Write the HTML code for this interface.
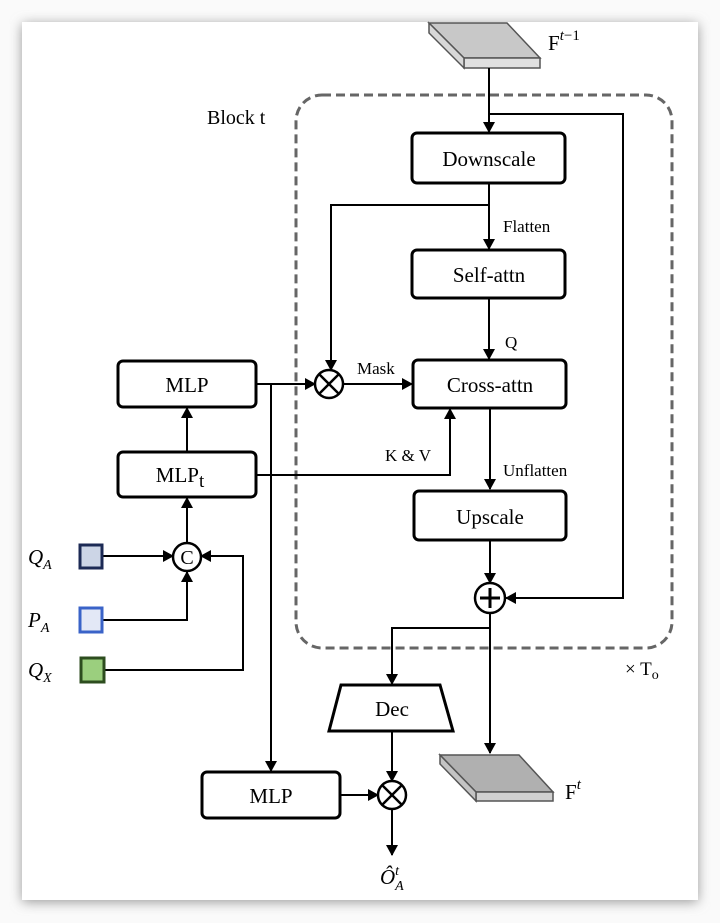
<!DOCTYPE html>
<html><head><meta charset="utf-8"><style>
html,body{margin:0;padding:0;background:#f2f2f2;}
svg{display:block;}
text{font-family:"Liberation Serif",serif;fill:#000;}
</style></head><body>
<svg width="720" height="923" viewBox="0 0 720 923" xmlns="http://www.w3.org/2000/svg">
<defs>
<filter id="sh" x="-10%" y="-10%" width="120%" height="120%"><feGaussianBlur stdDeviation="6"/></filter>
<marker id="ar" markerWidth="11" markerHeight="12" refX="10" refY="6" orient="auto" markerUnits="userSpaceOnUse"><path d="M0,0 L11,6 L0,12 z" fill="#000"/></marker>
</defs>
<rect x="0" y="0" width="720" height="923" fill="#fafafa"/>
<rect x="22" y="24" width="676" height="878" fill="#999" filter="url(#sh)"/>
<rect x="22" y="22" width="676" height="878" fill="#fff"/>

<rect x="296" y="95" width="376" height="553" rx="26" fill="none" stroke="#666" stroke-width="3" stroke-dasharray="9,5"/>
<text x="207" y="124" font-size="20">Block t</text>

<polygon points="429,23 507,23 540,58 464,58" fill="#c8c8c8" stroke="#555" stroke-width="1.5"/>
<polygon points="464,58 540,58 540,68 464,68" fill="#e0e0e0" stroke="#555" stroke-width="1.5"/>
<polygon points="429,23 464,58 464,68 429,33" fill="#d8d8d8" stroke="#555" stroke-width="1.5"/>
<text x="548" y="50" font-size="21">F<tspan font-size="15" dy="-10" font-style="italic">t</tspan><tspan font-size="15">−1</tspan></text>

<polygon points="440,755 519,755 553,792 476,792" fill="#b0b0b0" stroke="#555" stroke-width="1.5"/>
<polygon points="476,792 553,792 553,801 476,801" fill="#d0d0d0" stroke="#555" stroke-width="1.5"/>
<polygon points="440,755 476,792 476,801 440,764" fill="#c4c4c4" stroke="#555" stroke-width="1.5"/>
<text x="565" y="799" font-size="21">F<tspan font-size="15" dy="-10" font-style="italic">t</tspan></text>

<g fill="none" stroke="#000" stroke-width="2">
<line x1="489" y1="68" x2="489" y2="132" marker-end="url(#ar)"/>
<polyline points="489,114 623,114 623,598 506,598" marker-end="url(#ar)"/>
<line x1="489" y1="183" x2="489" y2="249" marker-end="url(#ar)"/>
<polyline points="489,205 331,205 331,370" marker-end="url(#ar)"/>
<line x1="489" y1="298" x2="489" y2="359" marker-end="url(#ar)"/>
<line x1="343" y1="384" x2="412" y2="384" marker-end="url(#ar)"/>
<line x1="256" y1="384" x2="315" y2="384" marker-end="url(#ar)"/>
<line x1="271" y1="384" x2="271" y2="771" marker-end="url(#ar)"/>
<polyline points="256,475 450,475 450,409" marker-end="url(#ar)"/>
<line x1="490" y1="408" x2="490" y2="489" marker-end="url(#ar)"/>
<line x1="490" y1="540" x2="490" y2="583" marker-end="url(#ar)"/>
<line x1="490" y1="613" x2="490" y2="753" marker-end="url(#ar)"/>
<polyline points="490,628 392,628 392,684" marker-end="url(#ar)"/>
<line x1="392" y1="731" x2="392" y2="781" marker-end="url(#ar)"/>
<line x1="340" y1="795" x2="378" y2="795" marker-end="url(#ar)"/>
<line x1="392" y1="809" x2="392" y2="855" marker-end="url(#ar)"/>
<line x1="102" y1="556" x2="173" y2="556" marker-end="url(#ar)"/>
<polyline points="102,620 187,620 187,572" marker-end="url(#ar)"/>
<polyline points="104,670 243,670 243,556 201,556" marker-end="url(#ar)"/>
<line x1="187" y1="543" x2="187" y2="498" marker-end="url(#ar)"/>
<line x1="187" y1="452" x2="187" y2="408" marker-end="url(#ar)"/>
</g>

<g fill="#fff" stroke="#000" stroke-width="3">
<rect x="412" y="133" width="153" height="50" rx="5"/>
<rect x="412" y="250" width="153" height="48" rx="5"/>
<rect x="413" y="360" width="153" height="48" rx="5"/>
<rect x="414" y="491" width="152" height="49" rx="5"/>
<rect x="118" y="361" width="138" height="46" rx="5"/>
<rect x="118" y="452" width="138" height="45" rx="5"/>
<rect x="202" y="772" width="138" height="46" rx="5"/>
<polygon points="341,685 440,685 453,731 329,731"/>
</g>
<g font-size="21" text-anchor="middle">
<text x="489" y="166">Downscale</text>
<text x="489" y="282">Self-attn</text>
<text x="490" y="392">Cross-attn</text>
<text x="490" y="524">Upscale</text>
<text x="187" y="392">MLP</text>
<text x="180" y="482">MLP<tspan font-size="19" dy="5">t</tspan></text>
<text x="271" y="803">MLP</text>
<text x="392" y="716">Dec</text>
</g>

<g fill="#fff" stroke="#000" stroke-width="2.5">
<circle cx="329" cy="384" r="14"/>
<circle cx="392" cy="795" r="14"/>
<circle cx="490" cy="598" r="15"/>
<circle cx="187" cy="557" r="14"/>
</g>
<g stroke="#000" stroke-width="2.5">
<line x1="319" y1="374" x2="339" y2="394"/><line x1="339" y1="374" x2="319" y2="394"/>
<line x1="382" y1="785" x2="402" y2="805"/><line x1="402" y1="785" x2="382" y2="805"/>
<line x1="480" y1="598" x2="500" y2="598" stroke-width="3"/><line x1="490" y1="588" x2="490" y2="608" stroke-width="3"/>
</g>
<text x="187" y="564" font-size="20" text-anchor="middle">C</text>

<rect x="80" y="545" width="22" height="23" fill="#ccd5e6" stroke="#1c2a55" stroke-width="3"/>
<rect x="80" y="608" width="22" height="24" fill="#e3e8f6" stroke="#3a63c8" stroke-width="3"/>
<rect x="81" y="658" width="23" height="24" fill="#9bcf7e" stroke="#2d4d1f" stroke-width="3"/>
<g font-size="21" font-style="italic">
<text x="28" y="564">Q<tspan font-size="14" dy="5">A</tspan></text>
<text x="28" y="627">P<tspan font-size="14" dy="5">A</tspan></text>
<text x="28" y="677">Q<tspan font-size="14" dy="5">X</tspan></text>
<text x="380" y="884">Ô<tspan font-size="14" dy="-9">t</tspan><tspan font-size="14" dx="-4" dy="15">A</tspan></text>
</g>

<g font-size="17">
<text x="503" y="232">Flatten</text>
<text x="505" y="348">Q</text>
<text x="357" y="374">Mask</text>
<text x="385" y="461">K &amp; V</text>
<text x="503" y="476">Unflatten</text>
<text x="625" y="675" font-size="19">× T<tspan font-size="14" dy="4">o</tspan></text>
</g>
</svg>
</body></html>
